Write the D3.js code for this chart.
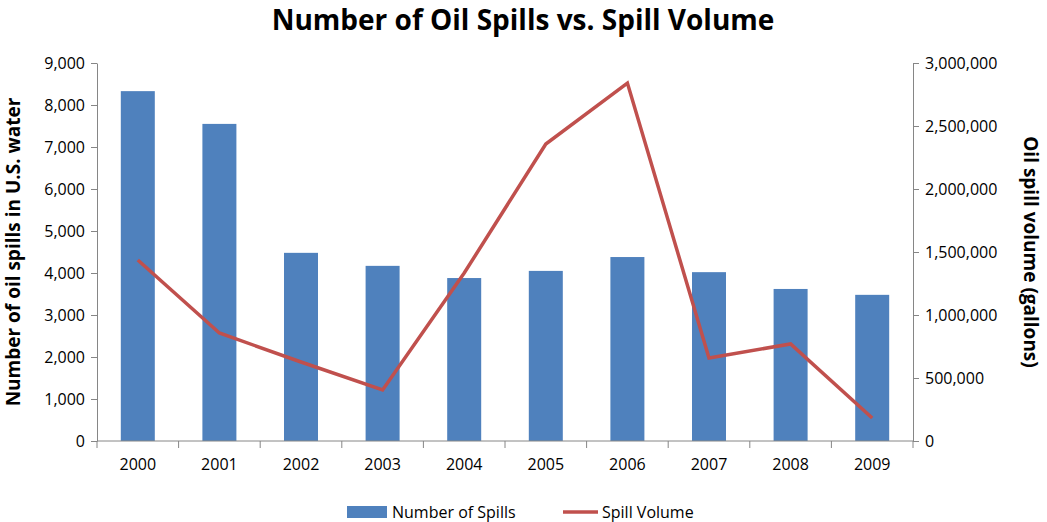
<!DOCTYPE html>
<html><head><meta charset="utf-8">
<script src="https://cdn.jsdelivr.net/npm/d3@7"></script>
<style>body{margin:0;background:#fff}text{font-family:"Open Sans","Liberation Sans",sans-serif}</style>
</head><body><svg id="c" width="1047" height="522"></svg>
<script>
const years=["2000","2001","2002","2003","2004","2005","2006","2007","2008","2009"];
const spills=[8330,7550,4480,4170,3880,4050,4380,4020,3620,3480];
const volume=[1437000,857000,627000,405000,1333000,2357000,2841000,659000,770000,183000];
const leftTicks=[0,1000,2000,3000,4000,5000,6000,7000,8000,9000];
const rightTicks=[0,500000,1000000,1500000,2000000,2500000,3000000];
const svg=d3.select("#c");
const L=97,R=913,T=63,B=441;
const x=d3.scaleBand().domain(years).range([L,R]);
const yL=d3.scaleLinear().domain([0,9000]).range([B,T]);
const yR=d3.scaleLinear().domain([0,3000000]).range([B,T]);
const fmt=d3.format(",");
svg.append("text").attr("x",523).attr("y",30).attr("text-anchor","middle").attr("font-size",28).attr("font-weight","bold").text("Number of Oil Spills vs. Spill Volume");
svg.selectAll(".bar").data(years).join("rect").attr("fill","#4f81bd")
 .attr("x",d=>x(d)+x.bandwidth()/2-17).attr("width",34)
 .attr("y",(d,i)=>yL(spills[i])).attr("height",(d,i)=>B-yL(spills[i]));
const ax=(g)=>{g.selectAll("path,line").attr("stroke","#868686");g.selectAll("text").attr("font-size",16).attr("fill","#000");};
svg.append("g").attr("transform",`translate(${L},0)`).call(d3.axisLeft(yL).tickValues(leftTicks).tickFormat(fmt).tickSize(6).tickSizeOuter(0).tickPadding(6)).call(ax);
svg.append("g").attr("transform",`translate(${R},0)`).call(d3.axisRight(yR).tickValues(rightTicks).tickFormat(fmt).tickSize(6).tickSizeOuter(0).tickPadding(6)).call(ax);
const xg=svg.append("g").attr("transform",`translate(0,${B})`).call(d3.axisBottom(x).tickSize(0).tickPadding(18)).call(ax);
xg.select("path").attr("d",`M${L},0H${R}`);
svg.append("g").selectAll("line").data(d3.range(11)).join("line")
 .attr("x1",i=>L+i*x.step()).attr("x2",i=>L+i*x.step()).attr("y1",B).attr("y2",B+7).attr("stroke","#868686");
const line=d3.line().x((d,i)=>x(years[i])+x.bandwidth()/2).y(d=>yR(d));
svg.append("path").datum(volume).attr("d",line).attr("fill","none").attr("stroke","#c0504d").attr("stroke-width",3.5);
svg.append("text").attr("transform","translate(20,252) rotate(-90)").attr("text-anchor","middle").attr("font-size",19).attr("font-weight","bold").text("Number of oil spills in U.S. water");
svg.append("text").attr("transform","translate(1024,252) rotate(90)").attr("text-anchor","middle").attr("font-size",19).attr("font-weight","bold").text("Oil spill volume (gallons)");
svg.append("rect").attr("x",347).attr("y",506).attr("width",40).attr("height",12).attr("fill","#4f81bd");
svg.append("text").attr("x",392).attr("y",518).attr("font-size",16).text("Number of Spills");
svg.append("line").attr("x1",563).attr("x2",598).attr("y1",512).attr("y2",512).attr("stroke","#c0504d").attr("stroke-width",3.5);
svg.append("text").attr("x",602).attr("y",518).attr("font-size",16).text("Spill Volume");
</script></body></html>
